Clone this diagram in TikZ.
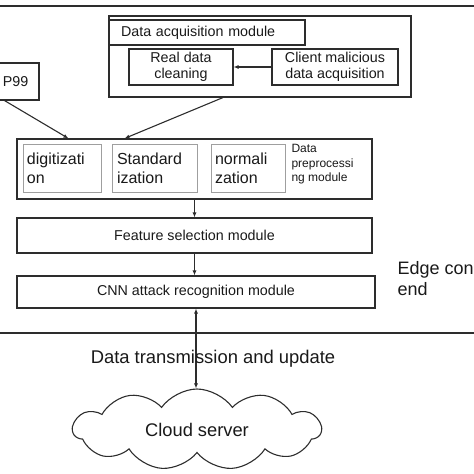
\documentclass[tikz,border=0pt]{standalone}
\usepackage{fontspec}
\setmainfont{Liberation Sans}
\usetikzlibrary{arrows.meta,positioning,shapes.symbols}
\definecolor{linegray}{RGB}{45,45,45}
\definecolor{textgray}{RGB}{25,25,25}

\tikzset{
  module/.style={draw=linegray, line width=1.1pt, inner sep=0pt, text=textgray,
                 font=\fontsize{14.3}{17}\selectfont},
  subbox/.style={draw=gray!75, line width=0.9pt, inner sep=0pt, text=textgray,
                 align=left, text width=#1, font=\fontsize{16}{19}\selectfont},
  label/.style={inner sep=0pt, text=textgray, align=left}
}

\begin{document}
\begin{tikzpicture}[x=1pt, y=-1pt, >={Latex[length=5pt,width=4pt]}, line width=1.1pt]
\clip (0,0) rectangle (474,474);

% edge / cloud separators
\draw[linegray] (0,6) -- (474,6);
\draw[linegray] (0,333) -- (474,333);

% data acquisition
\node[module, minimum width=302pt, minimum height=81pt] (acq) at (260,56.5) {};
\node[module, minimum width=196pt, minimum height=25pt, align=left,
      text width=188pt] (acqtitle) at (207,32.5) {\hspace*{8pt}Data acquisition module};
\node[module, minimum width=104pt, minimum height=36pt, align=center,
      font=\fontsize{14.3}{15.5}\selectfont] (clean) at (181,67) {Real data\\cleaning};
\node[module, minimum width=126pt, minimum height=36pt, align=center,
      font=\fontsize{14.3}{15.5}\selectfont] (client) at (335,67) {Client malicious\\data acquisition};
\draw[->, linegray] (client) -- (clean);

\node[module, minimum width=49pt, minimum height=37pt] (p99) at (14.5,81.5) {\hspace*{2pt}P99};

% data preprocessing
\node[module, minimum width=355pt, minimum height=60pt] (prep) at (194.5,169) {};
\node[subbox=70pt, minimum width=78pt, minimum height=48pt] (digit) at (62,168) {digitizati\\on};
\node[subbox=75pt, minimum width=85pt, minimum height=48pt] (stand) at (154.5,168) {Standard\\ization};
\node[subbox=66pt, minimum width=74pt, minimum height=48pt] (norm) at (248,168) {normali\\zation};
\node[label, anchor=north west, font=\fontsize{12}{14.5}\selectfont] (preplabel)
      at (291,144) {Data\\preprocessi\\ng module};

\draw[->, linegray] ([xshift=-10pt]p99.south) -- ([xshift=-126pt]prep.north);
\draw[->, linegray] ([xshift=-37pt]acq.south) -- ([xshift=-70pt]prep.north);

\node[module, minimum width=355pt, minimum height=35pt] (feat) at (194.5,235.5) {Feature selection module};
\node[module, minimum width=358pt, minimum height=32pt] (cnn) at (196,292) {CNN attack recognition module};
\draw[->, linegray] (prep) -- (feat);
\draw[->, linegray] (feat.south) -- (feat.south |- cnn.north);

\node[label, anchor=north west, font=\fontsize{18}{21}\selectfont] (edge)
      at (397,261) {Edge con\\end};

% cloud side
\node[cloud, draw=linegray, line width=1.1pt, cloud puffs=11, cloud puff arc=110,
      aspect=3, minimum width=248pt, minimum height=81pt, inner sep=0pt,
      text=textgray, font=\fontsize{18.3}{21}\selectfont] (cloud) at (197,429.5) {Cloud server};
\draw[<->, linegray] (cnn.south) -- (cnn.south |- cloud.north);
\node[label, font=\fontsize{18.4}{21}\selectfont] (trans) at (213,359) {Data transmission and update};
\end{tikzpicture}
\end{document}
